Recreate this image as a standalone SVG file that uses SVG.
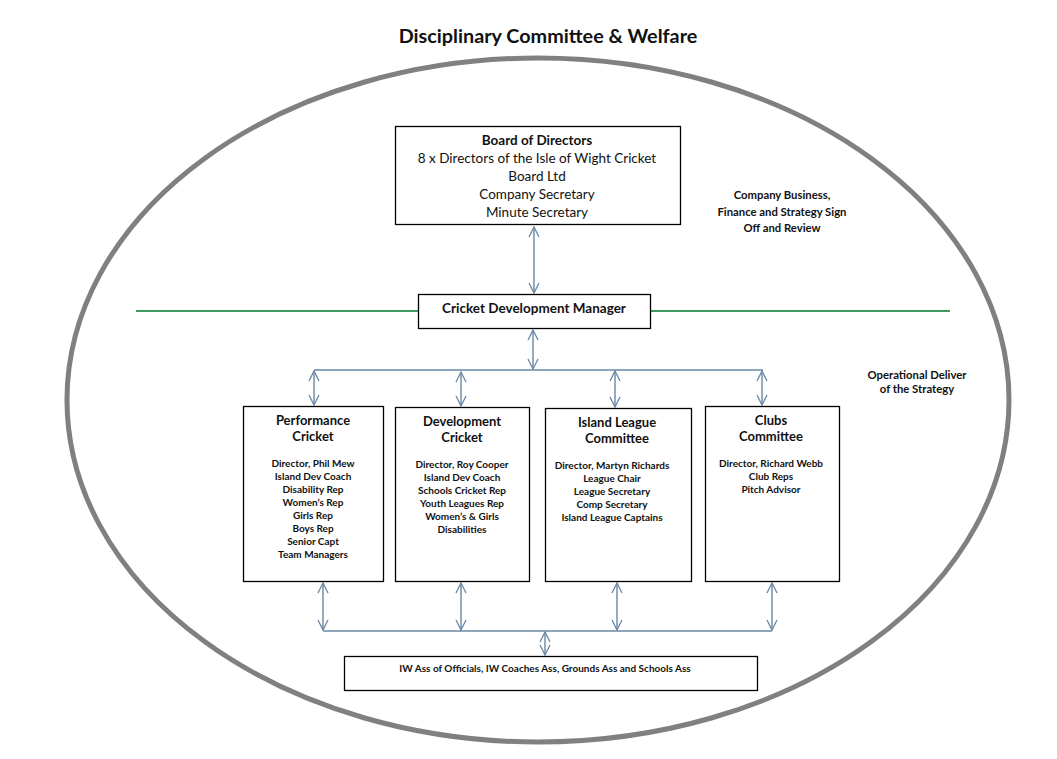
<svg xmlns="http://www.w3.org/2000/svg" width="1057" height="759" viewBox="0 0 1057 759">
<style>
text{font-family:Lato,"Open Sans","Liberation Sans",sans-serif;fill:#111;text-anchor:middle;dominant-baseline:central}
.b{font-weight:bold}
.box{fill:#fff;stroke:#000;stroke-width:1.3}
.con{stroke:#6a87a3;stroke-width:1.4;fill:none}
.arr{marker-start:url(#ah);marker-end:url(#ah)}
.t13{font-size:13px;font-weight:bold}
.t10{font-size:10px;font-weight:bold}
.t11{font-size:11.3px;font-weight:bold}
</style>
<defs>
<marker id="ah" viewBox="0 0 12 12" refX="11" refY="6" markerWidth="12" markerHeight="12" markerUnits="userSpaceOnUse" orient="auto-start-reverse">
<path d="M1,1 L11,6 L1,11" fill="none" stroke="#6a87a3" stroke-width="1.3"/>
</marker>
</defs>
<rect width="1057" height="759" fill="#fff"/>
<text x="548" y="35" class="b" font-size="19.8">Disciplinary Committee &amp; Welfare</text>
<ellipse cx="538" cy="400" rx="471" ry="342" fill="none" stroke="#808080" stroke-width="5"/>
<g id="divider">
<line x1="136" y1="311" x2="418" y2="311" stroke="#3f9a62" stroke-width="2"/>
<line x1="650" y1="311" x2="950" y2="311" stroke="#3f9a62" stroke-width="2"/>
</g>
<g id="connectors">
<line class="con arr" x1="534" y1="227" x2="534" y2="293"/>
<line class="con arr" x1="533" y1="330" x2="533" y2="369"/>
<line class="con" x1="314" y1="370" x2="763" y2="370"/>
<line class="con arr" x1="314" y1="371" x2="314" y2="405"/>
<line class="con arr" x1="461" y1="372" x2="461" y2="406"/>
<line class="con arr" x1="615" y1="371" x2="615" y2="407"/>
<line class="con arr" x1="762" y1="371" x2="762" y2="405"/>
<line class="con arr" x1="323" y1="583" x2="323" y2="630"/>
<line class="con arr" x1="461" y1="583" x2="461" y2="630"/>
<line class="con arr" x1="617" y1="583" x2="617" y2="630"/>
<line class="con arr" x1="772" y1="583" x2="772" y2="630"/>
<line class="con" x1="323" y1="631" x2="772" y2="631"/>
<line class="con arr" x1="545" y1="632" x2="545" y2="655"/>
</g>
<g id="board">
<rect class="box" x="395.5" y="126.5" width="285" height="98"/>
<text x="537" y="140" class="b" font-size="13.5">Board of Directors</text>
<text x="537" y="158" font-size="13.5">8 x Directors of the Isle of Wight Cricket</text>
<text x="537" y="176" font-size="13.5">Board Ltd</text>
<text x="537" y="194" font-size="13.5">Company Secretary</text>
<text x="537" y="212" font-size="13.5">Minute Secretary</text>
</g>
<g id="company-note">
<text x="782" y="194" class="t11">Company Business,</text>
<text x="782" y="211" class="t11">Finance and Strategy Sign</text>
<text x="782" y="227" class="t11">Off and Review</text>
</g>
<g id="cdm">
<rect class="box" x="418.5" y="294.5" width="232" height="34"/>
<text x="534" y="308" class="b" font-size="13.5">Cricket Development Manager</text>
</g>
<g id="ops-note">
<text x="917" y="374" class="t11">Operational Deliver</text>
<text x="917" y="388" class="t11">of the Strategy</text>
</g>
<g id="performance">
<rect class="box" x="243.5" y="406.5" width="140" height="175"/>
<text x="313" y="420" class="t13">Performance</text>
<text x="313" y="436" class="t13">Cricket</text>
<text x="313" y="463" class="t10">Director, Phil Mew</text>
<text x="313" y="476" class="t10">Island Dev Coach</text>
<text x="313" y="489" class="t10">Disability Rep</text>
<text x="313" y="502" class="t10">Women’s Rep</text>
<text x="313" y="515" class="t10">Girls Rep</text>
<text x="313" y="528" class="t10">Boys Rep</text>
<text x="313" y="541" class="t10">Senior Capt</text>
<text x="313" y="554" class="t10">Team Managers</text>
</g>
<g id="development">
<rect class="box" x="395.5" y="407.5" width="134" height="174"/>
<text x="462" y="421" class="t13">Development</text>
<text x="462" y="437" class="t13">Cricket</text>
<text x="462" y="464" class="t10">Director, Roy Cooper</text>
<text x="462" y="477" class="t10">Island Dev Coach</text>
<text x="462" y="490" class="t10">Schools Cricket Rep</text>
<text x="462" y="503" class="t10">Youth Leagues Rep</text>
<text x="462" y="516" class="t10">Women’s &amp; Girls</text>
<text x="462" y="529" class="t10">Disabilities</text>
</g>
<g id="island-league">
<rect class="box" x="545.5" y="408.5" width="146" height="173"/>
<text x="617" y="422" class="t13">Island League</text>
<text x="617" y="438" class="t13">Committee</text>
<text x="612" y="465" class="t10">Director, Martyn Richards</text>
<text x="612" y="478" class="t10">League Chair</text>
<text x="612" y="491" class="t10">League Secretary</text>
<text x="612" y="504" class="t10">Comp Secretary</text>
<text x="612" y="517" class="t10">Island League Captains</text>
</g>
<g id="clubs">
<rect class="box" x="705.5" y="406.5" width="134" height="175"/>
<text x="771" y="420" class="t13">Clubs</text>
<text x="771" y="436" class="t13">Committee</text>
<text x="771" y="463" class="t10">Director, Richard Webb</text>
<text x="771" y="476" class="t10">Club Reps</text>
<text x="771" y="489" class="t10">Pitch Advisor</text>
</g>
<g id="associations">
<rect class="box" x="344.5" y="656.5" width="413" height="34"/>
<text x="545" y="668" class="t10">IW Ass of Officials, IW Coaches Ass, Grounds Ass and Schools Ass</text>
</g>
</svg>
